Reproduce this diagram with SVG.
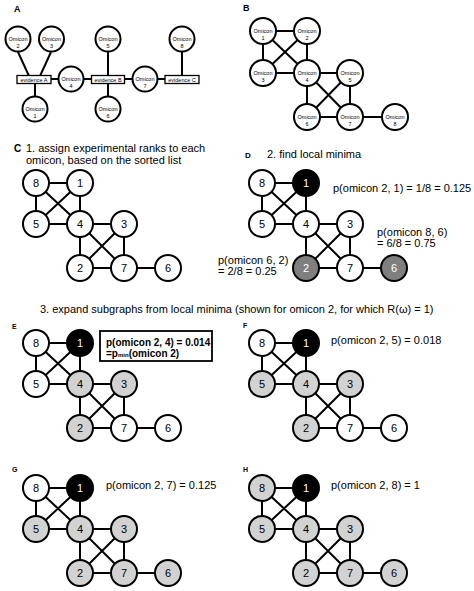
<svg xmlns="http://www.w3.org/2000/svg" xmlns:xlink="http://www.w3.org/1999/xlink" width="474" height="591" viewBox="0 0 474 591">
<style>
text{font-family:"Liberation Sans",Arial,sans-serif;fill:#000}
.e{stroke:#000;stroke-width:2;fill:none}
.n circle{fill:#fff;stroke:#000;stroke-width:2}
.n text{font-size:11px;text-anchor:middle}
.g circle{fill:#d2d2d2}
.k circle{fill:#000}
.k text{fill:#fff}
.d circle{fill:#7f7f7f}
.d text{fill:#fff}
.o text{font-size:5.5px;text-anchor:middle}
.bx{fill:#fff;stroke:#000;stroke-width:1.3}
.bt{font-size:5.5px;text-anchor:middle}
.t{font-size:11px}
.pl{font-weight:bold;font-size:9px}
.ps{font-weight:bold;font-size:7px}
</style>
<defs>
<path id="web" d="M0 0H44M0 0V41M0 0L44 41M44 0L0 41M44 0V41M0 41H88M44 41V85M44 41L88 85M88 41L44 85M88 41V85M44 85H132"/>
</defs>
<rect width="474" height="591" fill="#fff"/>

<!-- Panel labels and texts -->
<text class="pl" x="14" y="12">A</text>
<text class="pl" x="243" y="11">B</text>
<text class="pl" x="14" y="152" style="font-size:10px">C</text>
<text class="t" x="26" y="152">1. assign experimental ranks to each</text>
<text class="t" x="26" y="164">omicon, based on the sorted list</text>
<text class="pl" x="245" y="158" style="font-size:8px">D</text>
<text class="t" x="267" y="158">2. find local minima</text>
<text class="t" x="333" y="192">p(omicon 2, 1) = 1/8 = 0.125</text>
<text class="t" x="377" y="236">p(omicon 8, 6)</text>
<text class="t" x="377" y="247">= 6/8 = 0.75</text>
<text class="t" x="218" y="264">p(omicon 6, 2)</text>
<text class="t" x="218" y="275">= 2/8 = 0.25</text>
<text class="t" x="40" y="313">3. expand subgraphs from local minima (shown for omicon 2, for which R(ω) = 1)</text>
<text class="ps" x="12" y="329">E</text>
<text class="ps" x="243" y="328">F</text>
<text class="ps" x="12" y="472">G</text>
<text class="ps" x="243" y="472">H</text>
<rect x="100" y="331" width="112" height="30" fill="#fff" stroke="#000" stroke-width="1.8"/>
<text x="106" y="346" style="font-size:10px;font-weight:bold">p(omicon 2, 4) = 0.014</text>
<text x="106" y="357" style="font-size:10px;font-weight:bold">=p<tspan style="font-size:6px">min</tspan>(omicon 2)</text>
<text class="t" x="331" y="344">p(omicon 2, 5) = 0.018</text>
<text class="t" x="106" y="489">p(omicon 2, 7) = 0.125</text>
<text class="t" x="331" y="489">p(omicon 2, 8) = 1</text>

<!-- Connectors -->
<g id="connectors" class="e">
<path d="M18 52L29 76M51 52L40 76M35 83V96M51 79H58M83 79H92M108 52V76M108 83V96M124 79H132M158 79H165M182 52V76"/>
<path d="M263 31H307M263 31V73M263 31L307 73M307 31L263 73M307 31V73M263 73H350M307 73V117M307 73L350 117M350 73L307 117M350 73V117M307 117H395"/>
<use xlink:href="#web" x="36" y="183"/>
<use xlink:href="#web" x="262" y="183"/>
<use xlink:href="#web" x="36" y="343"/>
<use xlink:href="#web" x="262" y="343"/>
<use xlink:href="#web" x="36" y="488"/>
<use xlink:href="#web" x="262" y="488"/>
</g>

<!-- Panel A -->
<g id="A-evA"><rect class="bx" x="17" y="75.5" width="34" height="8"/><text class="bt" x="34" y="81.5">evidence  A</text></g>
<g id="A-evB"><rect class="bx" x="91.5" y="75.5" width="33" height="8"/><text class="bt" x="108" y="81.5">evidence  B</text></g>
<g id="A-evC"><rect class="bx" x="165" y="75.5" width="34" height="8"/><text class="bt" x="182" y="81.5">evidence  C</text></g>
<g id="A-o2" class="n o" transform="translate(18,39)"><circle r="12.5"/><text y="1.5">Omicon</text><text y="8.5">2</text></g>
<g id="A-o3" class="n o" transform="translate(51.5,39)"><circle r="12.5"/><text y="1.5">Omicon</text><text y="8.5">3</text></g>
<g id="A-o1" class="n o" transform="translate(35,109)"><circle r="12.5"/><text y="1.5">Omicon</text><text y="8.5">1</text></g>
<g id="A-o4" class="n o" transform="translate(71,79)"><circle r="12.5"/><text y="1.5">Omicon</text><text y="8.5">4</text></g>
<g id="A-o5" class="n o" transform="translate(108,39)"><circle r="12.5"/><text y="1.5">Omicon</text><text y="8.5">5</text></g>
<g id="A-o6" class="n o" transform="translate(108,109)"><circle r="12.5"/><text y="1.5">Omicon</text><text y="8.5">6</text></g>
<g id="A-o7" class="n o" transform="translate(145,79)"><circle r="12.5"/><text y="1.5">Omicon</text><text y="8.5">7</text></g>
<g id="A-o8" class="n o" transform="translate(182,39)"><circle r="12.5"/><text y="1.5">Omicon</text><text y="8.5">8</text></g>

<!-- Panel B -->
<g id="B-o1" class="n o" transform="translate(263,31)"><circle r="13"/><text y="1.5">Omicon</text><text y="8.5">1</text></g>
<g id="B-o2" class="n o" transform="translate(307,31)"><circle r="13"/><text y="1.5">Omicon</text><text y="8.5">2</text></g>
<g id="B-o3" class="n o" transform="translate(263,73)"><circle r="13"/><text y="1.5">Omicon</text><text y="8.5">3</text></g>
<g id="B-o4" class="n o" transform="translate(307,73)"><circle r="13"/><text y="1.5">Omicon</text><text y="8.5">4</text></g>
<g id="B-o5" class="n o" transform="translate(350,73)"><circle r="13"/><text y="1.5">Omicon</text><text y="8.5">5</text></g>
<g id="B-o6" class="n o" transform="translate(307,117)"><circle r="13"/><text y="1.5">Omicon</text><text y="8.5">6</text></g>
<g id="B-o7" class="n o" transform="translate(350,117)"><circle r="13"/><text y="1.5">Omicon</text><text y="8.5">7</text></g>
<g id="B-o8" class="n o" transform="translate(395,117)"><circle r="13"/><text y="1.5">Omicon</text><text y="8.5">8</text></g>

<!-- Panel C -->
<g id="C-8" class="n" transform="translate(36,183)"><circle r="13"/><text y="4">8</text></g>
<g id="C-1" class="n" transform="translate(80,183)"><circle r="13"/><text y="4">1</text></g>
<g id="C-5" class="n" transform="translate(36,224)"><circle r="13"/><text y="4">5</text></g>
<g id="C-4" class="n" transform="translate(80,224)"><circle r="13"/><text y="4">4</text></g>
<g id="C-3" class="n" transform="translate(124,224)"><circle r="13"/><text y="4">3</text></g>
<g id="C-2" class="n" transform="translate(80,268)"><circle r="13"/><text y="4">2</text></g>
<g id="C-7" class="n" transform="translate(124,268)"><circle r="13"/><text y="4">7</text></g>
<g id="C-6" class="n" transform="translate(168,268)"><circle r="13"/><text y="4">6</text></g>

<!-- Panel D -->
<g id="D-8" class="n" transform="translate(262,183)"><circle r="13"/><text y="4">8</text></g>
<g id="D-1" class="n k" transform="translate(306,183)"><circle r="13"/><text y="4">1</text></g>
<g id="D-5" class="n" transform="translate(262,224)"><circle r="13"/><text y="4">5</text></g>
<g id="D-4" class="n" transform="translate(306,224)"><circle r="13"/><text y="4">4</text></g>
<g id="D-3" class="n" transform="translate(350,224)"><circle r="13"/><text y="4">3</text></g>
<g id="D-2" class="n d" transform="translate(306,268)"><circle r="13"/><text y="4">2</text></g>
<g id="D-7" class="n" transform="translate(350,268)"><circle r="13"/><text y="4">7</text></g>
<g id="D-6" class="n d" transform="translate(394,268)"><circle r="13"/><text y="4">6</text></g>

<!-- Panel E -->
<g id="E-8" class="n" transform="translate(36,343)"><circle r="13"/><text y="4">8</text></g>
<g id="E-1" class="n k" transform="translate(80,343)"><circle r="13"/><text y="4">1</text></g>
<g id="E-5" class="n" transform="translate(36,384)"><circle r="13"/><text y="4">5</text></g>
<g id="E-4" class="n g" transform="translate(80,384)"><circle r="13"/><text y="4">4</text></g>
<g id="E-3" class="n g" transform="translate(124,384)"><circle r="13"/><text y="4">3</text></g>
<g id="E-2" class="n g" transform="translate(80,428)"><circle r="13"/><text y="4">2</text></g>
<g id="E-7" class="n" transform="translate(124,428)"><circle r="13"/><text y="4">7</text></g>
<g id="E-6" class="n" transform="translate(168,428)"><circle r="13"/><text y="4">6</text></g>

<!-- Panel F -->
<g id="F-8" class="n" transform="translate(262,343)"><circle r="13"/><text y="4">8</text></g>
<g id="F-1" class="n k" transform="translate(306,343)"><circle r="13"/><text y="4">1</text></g>
<g id="F-5" class="n g" transform="translate(262,384)"><circle r="13"/><text y="4">5</text></g>
<g id="F-4" class="n g" transform="translate(306,384)"><circle r="13"/><text y="4">4</text></g>
<g id="F-3" class="n g" transform="translate(350,384)"><circle r="13"/><text y="4">3</text></g>
<g id="F-2" class="n g" transform="translate(306,428)"><circle r="13"/><text y="4">2</text></g>
<g id="F-7" class="n" transform="translate(350,428)"><circle r="13"/><text y="4">7</text></g>
<g id="F-6" class="n" transform="translate(394,428)"><circle r="13"/><text y="4">6</text></g>

<!-- Panel G -->
<g id="G-8" class="n" transform="translate(36,488)"><circle r="13"/><text y="4">8</text></g>
<g id="G-1" class="n k" transform="translate(80,488)"><circle r="13"/><text y="4">1</text></g>
<g id="G-5" class="n g" transform="translate(36,529)"><circle r="13"/><text y="4">5</text></g>
<g id="G-4" class="n g" transform="translate(80,529)"><circle r="13"/><text y="4">4</text></g>
<g id="G-3" class="n g" transform="translate(124,529)"><circle r="13"/><text y="4">3</text></g>
<g id="G-2" class="n g" transform="translate(80,573)"><circle r="13"/><text y="4">2</text></g>
<g id="G-7" class="n g" transform="translate(124,573)"><circle r="13"/><text y="4">7</text></g>
<g id="G-6" class="n g" transform="translate(168,573)"><circle r="13"/><text y="4">6</text></g>

<!-- Panel H -->
<g id="H-8" class="n g" transform="translate(262,488)"><circle r="13"/><text y="4">8</text></g>
<g id="H-1" class="n k" transform="translate(306,488)"><circle r="13"/><text y="4">1</text></g>
<g id="H-5" class="n g" transform="translate(262,529)"><circle r="13"/><text y="4">5</text></g>
<g id="H-4" class="n g" transform="translate(306,529)"><circle r="13"/><text y="4">4</text></g>
<g id="H-3" class="n g" transform="translate(350,529)"><circle r="13"/><text y="4">3</text></g>
<g id="H-2" class="n g" transform="translate(306,573)"><circle r="13"/><text y="4">2</text></g>
<g id="H-7" class="n g" transform="translate(350,573)"><circle r="13"/><text y="4">7</text></g>
<g id="H-6" class="n g" transform="translate(394,573)"><circle r="13"/><text y="4">6</text></g>
</svg>
